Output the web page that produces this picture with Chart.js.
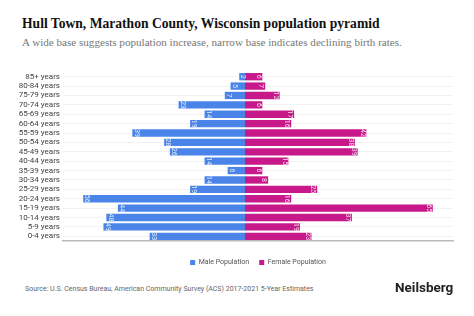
<!DOCTYPE html>
<html>
<head>
<meta charset="utf-8">
<script src="https://cdn.jsdelivr.net/npm/chart.js@4.4.0/dist/chart.umd.min.js"></script>
<style>
  html, body { margin: 0; padding: 0; background: #fff; }
  body { width: 474px; height: 316px; position: relative; overflow: hidden; }
  .titulo { position: absolute; left: 22px; top: 16px; font-family: "Liberation Serif", serif; font-weight: bold; font-size: 13.6px; color: #111; white-space: nowrap; }
  .subtitulo { position: absolute; left: 22px; top: 36px; font-family: "Liberation Serif", serif; font-size: 11.1px; color: #777; white-space: nowrap; }
  .grafico { position: absolute; left: 0; top: 62px; width: 474px; height: 220px; }
  .fuente { position: absolute; left: 25px; top: 285px; font-family: Roboto, sans-serif; font-size: 7px; color: #666; white-space: nowrap; }
  .marca { position: absolute; left: 395px; top: 279px; font-family: Roboto, sans-serif; font-weight: bold; font-size: 13.5px; color: #222; }
</style>
</head>
<body>
<div class="titulo">Hull Town, Marathon County, Wisconsin population pyramid</div>
<div class="subtitulo">A wide base suggests population increase, narrow base indicates declining birth rates.</div>
<div class="grafico"><canvas id="piramide"></canvas></div>
<div class="fuente">Source: U.S. Census Bureau, American Community Survey (ACS) 2017-2021 5-Year Estimates</div>
<div class="marca">Neilsberg</div>
<script>
// grupos de edad, de arriba hacia abajo
const grupos = ['85+ years', '80-84 years', '75-79 years', '70-74 years', '65-69 years', '60-64 years',
    '55-59 years', '50-54 years', '45-49 years', '40-44 years', '35-39 years', '30-34 years',
    '25-29 years', '20-24 years', '15-19 years', '10-14 years', '5-9 years', '0-4 years'];
// poblacion masculina y femenina por grupo
const hombres = [2, 5, 7, 23, 14, 19, 39, 28, 26, 14, 6, 14, 19, 56, 44, 48, 49, 33];
const mujeres = [6, 7, 12, 6, 17, 16, 42, 38, 39, 15, 6, 8, 25, 16, 65, 37, 19, 23];

// etiquetas giradas dentro de cada barra
const etiquetasBarras = {
    id: 'etiquetasBarras',
    afterDatasetsDraw(chart) {
        const ctx = chart.ctx;
        ctx.save();
        ctx.font = '7px Roboto, sans-serif';
        ctx.fillStyle = 'rgba(255,255,255,0.85)';
        ctx.textAlign = 'center';
        ctx.textBaseline = 'middle';
        chart.data.datasets.forEach((ds, i) => {
            chart.getDatasetMeta(i).data.forEach((bar, j) => {
                const valor = Math.abs(ds.data[j]);
                const x = ds.data[j] < 0 ? bar.x + 4 : bar.x - 4;
                ctx.save();
                ctx.translate(x, bar.y);
                ctx.rotate(Math.PI / 2);
                ctx.fillText(String(valor), 0, 0);
                ctx.restore();
            });
        });
        ctx.restore();
    }
};

// centramos la leyenda bajo el area del grafico
const leyendaCentrada = {
    id: 'leyendaCentrada',
    afterLayout(chart) {
        const leyenda = chart.legend;
        if (!leyenda) return;
        leyenda.left = chart.chartArea.left;
        leyenda.right = chart.chartArea.right;
        leyenda.width = leyenda.right - leyenda.left;
        leyenda.adjustHitBoxes();
    }
};

new Chart(document.getElementById('piramide'), {
    type: 'bar',
    data: {
        labels: grupos,
        datasets: [{
            label: 'Male Population',
            data: hombres.map(v => -v),
            backgroundColor: '#4a84e8',
            barPercentage: 0.78,
            categoryPercentage: 1
        }, {
            label: 'Female Population',
            data: mujeres,
            backgroundColor: '#c8198b',
            barPercentage: 0.78,
            categoryPercentage: 1
        }]
    },
    options: {
        indexAxis: 'y',
        responsive: true,
        maintainAspectRatio: false,
        animation: false,
        layout: { padding: { left: 0, right: 21, top: 10, bottom: 6 } },
        scales: {
            x: {
                min: -63,
                max: 72,
                stacked: true,
                ticks: { display: false },
                grid: { display: false },
                border: { display: true, color: '#bbb', width: 1.5 }
            },
            y: {
                stacked: true,
                afterFit: (scale) => { scale.width = 63; },
                ticks: { color: '#444', font: { family: 'Roboto', size: 8 }, padding: 3, autoSkip: false },
                grid: { offset: false, color: '#f2f2f2', drawTicks: false },
                border: { display: false }
            }
        },
        plugins: {
            legend: {
                position: 'bottom',
                labels: {
                    boxWidth: 5,
                    boxHeight: 5,
                    padding: 10,
                    color: '#555',
                    font: { family: 'Roboto', size: 7 }
                }
            },
            tooltip: { enabled: false }
        }
    },
    plugins: [etiquetasBarras, leyendaCentrada]
});
</script>
</body>
</html>
